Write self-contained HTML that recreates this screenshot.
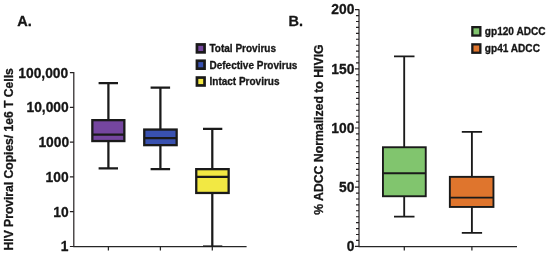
<!DOCTYPE html>
<html lang="en">
<head>
<meta charset="utf-8">
<title>Figure</title>
<style>
html,body{margin:0;padding:0;background:#fff;}
body{width:550px;height:255px;overflow:hidden;}
svg{display:block;}
text{font-family:"Liberation Sans",Arial,sans-serif;font-weight:bold;fill:#161616;stroke:#161616;stroke-width:0.3px;stroke-linejoin:round;}
.pl{font-size:14.5px;}
.tk{font-size:13.8px;text-anchor:end;}
.yl{font-size:12.1px;}
.yl2{font-size:12.25px;}
.lg{font-size:10px;}
.lg2{font-size:10.1px;}
.bx{stroke:#1a1a1a;stroke-width:2.3;}
.ln{stroke:#1a1a1a;stroke-width:2.25;fill:none;}
.bx2{stroke:#1a1a1a;stroke-width:1.9;}
.ln2{stroke:#1a1a1a;stroke-width:1.85;fill:none;}
.ax{stroke:#231f20;stroke-width:1.2;fill:none;}
.axx{stroke:#262626;stroke-width:1.25;fill:none;}
</style>
</head>
<body>
<svg width="550" height="255" viewBox="0 0 550 255">
<rect x="0" y="0" width="550" height="255" fill="#ffffff"/>

<!-- ================= Panel A ================= -->
<text class="pl" x="17.2" y="26">A.</text>

<!-- y label -->
<text class="yl" transform="translate(12.8,250.4) rotate(-90)">HIV Proviral Copies/ 1e6 T Cells</text>

<!-- tick labels -->
<text class="tk" x="68.2" y="77.55">100,000</text>
<text class="tk" x="68.7" y="112.35">10,000</text>
<text class="tk" x="69.1" y="147.10">1000</text>
<text class="tk" x="68.6" y="181.85">100</text>
<text class="tk" x="68.6" y="216.65">10</text>
<text class="tk" x="68.4" y="251.45">1</text>

<!-- axes -->
<path class="ax" d="M73.8,72V246.8"/>
<path class="ax" d="M69.9,72.60H73.8M69.9,107.40H73.8M69.9,142.15H73.8M69.9,176.90H73.8M69.9,211.70H73.8M69.9,246.50H73.8"/>
<path class="axx" d="M73.2,246.5H246.6"/>
<path class="axx" d="M108.4,246.5V250.6M160.4,246.5V250.6M212.3,246.5V250.6"/>

<!-- box 1 purple -->
<path class="ln" d="M98.6,83.1H118M108.4,83.1V120M108.4,141V168.4M98.6,168.4H118"/>
<rect class="bx" x="92.35" y="120.15" width="32" height="20.9" fill="#75469f"/>
<path class="ln" d="M92.1,134.5H124.5"/>

<!-- box 2 blue -->
<path class="ln" d="M150.6,87.6H170.1M160.4,87.6V129.4M160.4,145.3V169M150.6,169H170.1"/>
<rect class="bx" x="144.25" y="129.55" width="32.4" height="15.6" fill="#3951b0"/>
<path class="ln" d="M144.25,138.1H176.65"/>

<!-- box 3 yellow -->
<path class="ln" d="M203,128.9H222.3M212.3,128.9V169M212.3,193V246.4"/>
<path class="ln" style="stroke-width:1.5" d="M203,246.15H222.3"/>
<rect class="bx" x="196.25" y="169.15" width="32.4" height="23.8" fill="#f2e843"/>
<path class="ln" d="M196.2,176.8H228.6"/>

<!-- legend A -->
<rect class="bx" style="stroke-width:2.7" x="196.95" y="44.45" width="7.6" height="7.9" fill="#75469f"/>
<rect class="bx" style="stroke-width:2.7" x="196.95" y="60.75" width="7.6" height="7.9" fill="#3951b0"/>
<rect class="bx" style="stroke-width:2.7" x="196.95" y="77.55" width="7.6" height="7.9" fill="#f2e843"/>
<text class="lg" x="209.5" y="52.2">Total Provirus</text>
<text class="lg" x="209.5" y="68.6">Defective Provirus</text>
<text class="lg" x="209.5" y="85.2">Intact Provirus</text>

<!-- ================= Panel B ================= -->
<text class="pl" x="288.6" y="26">B.</text>

<text class="yl2" transform="translate(323.2,214.8) rotate(-90)">% ADCC Normalized to HIVIG</text>

<text class="tk" x="354.4" y="14.2">200</text>
<text class="tk" x="354.4" y="73.6">150</text>
<text class="tk" x="354.4" y="132.8">100</text>
<text class="tk" x="354.4" y="192.0">50</text>
<text class="tk" x="354.4" y="251.2">0</text>

<path class="ax" d="M359,9.2V246.8"/>
<path class="ax" d="M354.9,9.7H359M354.9,68.9H359M354.9,128H359M354.9,187.2H359M354.9,246.3H359"/>
<path class="ax" style="stroke-width:1.1" d="M356,240.4H359M356,234.5H359M356,228.6H359M356,222.6H359M356,216.7H359M356,210.8H359M356,204.9H359M356,199.0H359M356,193.1H359M356,181.2H359M356,175.3H359M356,169.4H359M356,163.5H359M356,157.6H359M356,151.7H359M356,145.7H359M356,139.8H359M356,133.9H359M356,122.1H359M356,116.2H359M356,110.3H359M356,104.3H359M356,98.4H359M356,92.5H359M356,86.6H359M356,80.7H359M356,74.8H359M356,62.9H359M356,57.0H359M356,51.1H359M356,45.2H359M356,39.3H359M356,33.4H359M356,27.4H359M356,21.5H359M356,15.6H359"/>
<path class="axx" d="M358.5,246.5H517"/>
<path class="axx" d="M404.3,246.3V250.6M471.9,246.3V250.6"/>

<!-- green -->
<path class="ln2" d="M394,56.3H414.5M404.2,56.3V147M404.2,196.4V216.6M394,216.6H414.5"/>
<rect class="bx2" x="382.95" y="147.25" width="42.8" height="49" fill="#81c56e"/>
<path class="ln2" d="M382.95,173.2H425.75"/>

<!-- orange -->
<path class="ln2" d="M461.8,131.8H482.1M471.9,131.8V177M471.9,207V232.8M461.8,232.8H482.1"/>
<rect class="bx2" x="449.85" y="176.85" width="43.6" height="30.1" fill="#df752d"/>
<path class="ln2" d="M449.85,197.6H493.45"/>

<!-- legend B -->
<rect class="bx2" style="stroke-width:2.3" x="472.35" y="27.15" width="8" height="8.4" fill="#81c56e"/>
<rect class="bx2" style="stroke-width:2.3" x="472.35" y="44.35" width="8" height="8.4" fill="#df752d"/>
<text class="lg2" x="484.8" y="34.5">gp120 ADCC</text>
<text class="lg2" x="484.8" y="51.7">gp41 ADCC</text>
</svg>
</body>
</html>
